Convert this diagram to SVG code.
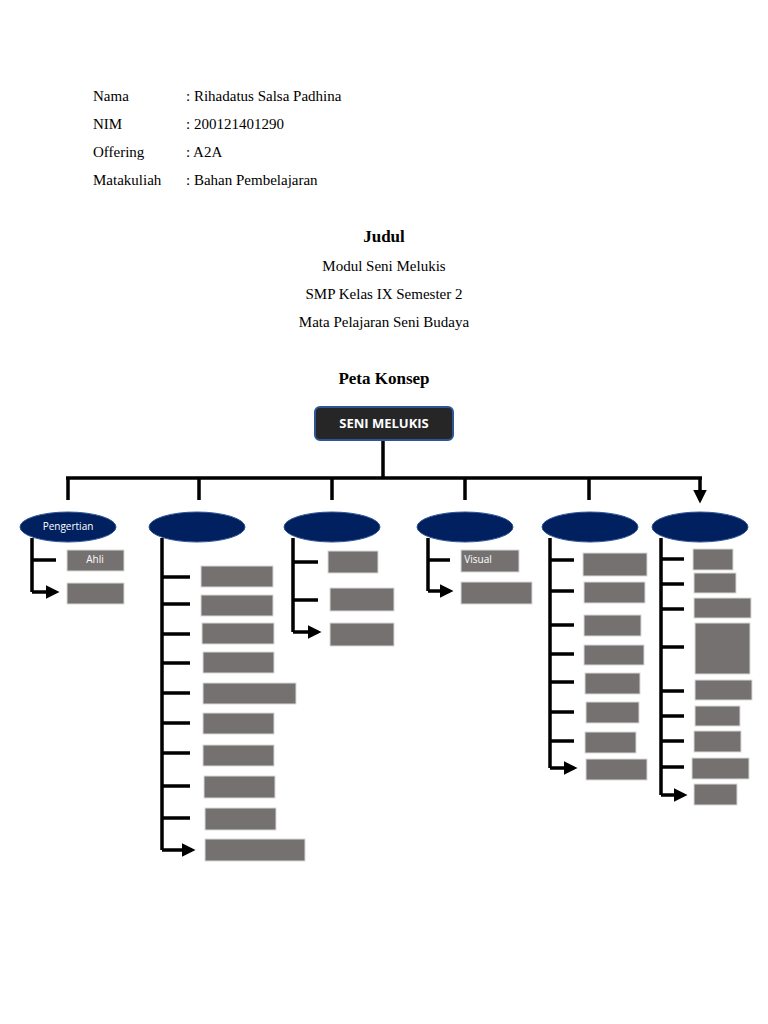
<svg xmlns="http://www.w3.org/2000/svg" width="768" height="1024" viewBox="0 0 768 1024">
<style>
.t{font-family:"Liberation Serif",serif;font-size:15px;fill:#000}
.h{font-family:"Liberation Serif",serif;font-size:17px;font-weight:bold;fill:#000;text-anchor:middle}
.c{text-anchor:middle}
.e{fill:#002060;stroke:#2f5597;stroke-width:1}
.b{fill:#767171;stroke:#d9d9d9;stroke-width:1}
.w{font-family:"Open Sans","DejaVu Sans",sans-serif;font-size:10px;fill:#fff;text-anchor:middle}
.l{stroke:#000;stroke-width:3.5;fill:none}
</style>
<defs><marker id="a" markerWidth="4" markerHeight="4" refX="3" refY="2" orient="auto" markerUnits="strokeWidth"><path d="M0,0 L4,2 L0,4z" fill="#000"/></marker></defs>
<rect width="768" height="1024" fill="#fff"/>
<g id="header">
<text class="t" x="93" y="101">Nama</text><text class="t" x="186" y="101">: Rihadatus Salsa Padhina</text>
<text class="t" x="93" y="129">NIM</text><text class="t" x="186" y="129">: 200121401290</text>
<text class="t" x="93" y="157">Offering</text><text class="t" x="186" y="157">: A2A</text>
<text class="t" x="93" y="185">Matakuliah</text><text class="t" x="186" y="185">: Bahan Pembelajaran</text>
<text class="h" x="384" y="242">Judul</text>
<text class="t c" x="384" y="271">Modul Seni Melukis</text>
<text class="t c" x="384" y="299">SMP Kelas IX Semester 2</text>
<text class="t c" x="384" y="327">Mata Pelajaran Seni Budaya</text>
<text class="h" x="384" y="384">Peta Konsep</text>
</g>
<g id="connectors">
<path class="l" d="M383,440 V478 M66,478 H702"/>
<path class="l" marker-end="url(#a)" d="M68,478 V500 M199,478 V500 M332,478 V500 M465,478 V500 M589,478 V500 M700,478 V500"/>
<path class="l" d="M32,538 V592 M162,538 V850 M293,538 V632 M428,538 V591 M550,538 V768 M661,538 V795"/>
<g marker-end="url(#a)" class="l">
<path d="M32,560 H56 M32,592 H56"/>
<path d="M162,577 H190 M162,604 H190 M162,634 H190 M162,663 H190 M162,693 H190 M162,723 H190 M162,753 H190 M162,786 H190 M162,818 H190 M162,850 H192"/>
<path d="M293,562 H318 M293,600 H318 M293,632 H318"/>
<path d="M428,560 H450 M428,591 H450"/>
<path d="M550,560 H574 M550,591 H574 M550,625 H574 M550,654 H574 M550,682 H574 M550,712 H574 M550,741 H574 M550,768 H574"/>
<path d="M661,559 H684 M661,584 H684 M661,609 H684 M661,647 H684 M661,691 H684 M661,716 H684 M661,741 H684 M661,767 H684 M661,795 H684"/>
</g>
</g>
<g id="root"><rect x="315" y="407" width="138" height="33" rx="5" fill="#262626" stroke="#2f5597" stroke-width="2"/><text x="384" y="428" font-family="'Open Sans','DejaVu Sans',sans-serif" font-size="13" font-weight="bold" fill="#fff" text-anchor="middle">SENI MELUKIS</text></g>
<g id="n1"><ellipse class="e" cx="68" cy="527" rx="48" ry="15"/><text class="w" x="68" y="530">Pengertian</text></g>
<g id="n2"><ellipse class="e" cx="197" cy="527" rx="48" ry="15"/></g>
<g id="n3"><ellipse class="e" cx="332" cy="527" rx="48" ry="15"/></g>
<g id="n4"><ellipse class="e" cx="465" cy="527" rx="48" ry="15"/></g>
<g id="n5"><ellipse class="e" cx="590" cy="527" rx="48" ry="15"/></g>
<g id="n6"><ellipse class="e" cx="700" cy="527" rx="48" ry="15"/></g>
<g id="c1"><rect class="b" x="67" y="550" width="57" height="21"/><text class="w" x="95" y="563">Ahli</text><rect class="b" x="67" y="583" width="57" height="21"/></g>
<g id="c2">
<rect class="b" x="201" y="566" width="72" height="21"/><rect class="b" x="201" y="595" width="72" height="21"/><rect class="b" x="202" y="623" width="72" height="21"/><rect class="b" x="203" y="652" width="71" height="21"/><rect class="b" x="203" y="683" width="93" height="21"/><rect class="b" x="203" y="713" width="71" height="21"/><rect class="b" x="203" y="745" width="71" height="21"/><rect class="b" x="204" y="776" width="71" height="22"/><rect class="b" x="205" y="808" width="71" height="22"/><rect class="b" x="205" y="839" width="100" height="22"/>
</g>
<g id="c3"><rect class="b" x="328" y="551" width="50" height="22"/><rect class="b" x="330" y="588" width="64" height="23"/><rect class="b" x="330" y="623" width="64" height="23"/></g>
<g id="c4"><rect class="b" x="461" y="550" width="58" height="22"/><text class="w" x="478" y="563">Visual</text><rect class="b" x="461" y="582" width="71" height="22"/></g>
<g id="c5">
<rect class="b" x="583" y="553" width="64" height="23"/><rect class="b" x="584" y="582" width="61" height="21"/><rect class="b" x="584" y="615" width="57" height="21"/><rect class="b" x="584" y="645" width="60" height="20"/><rect class="b" x="585" y="673" width="55" height="21"/><rect class="b" x="586" y="702" width="53" height="21"/><rect class="b" x="585" y="732" width="51" height="21"/><rect class="b" x="586" y="759" width="61" height="21"/>
</g>
<g id="c6">
<rect class="b" x="693" y="549" width="40" height="21"/><rect class="b" x="694" y="573" width="42" height="20"/><rect class="b" x="694" y="598" width="57" height="20"/><rect class="b" x="695" y="623" width="55" height="51"/><rect class="b" x="695" y="680" width="57" height="20"/><rect class="b" x="695" y="706" width="45" height="20"/><rect class="b" x="694" y="731" width="47" height="21"/><rect class="b" x="692" y="758" width="57" height="21"/><rect class="b" x="694" y="784" width="43" height="21"/>
</g>
</svg>
